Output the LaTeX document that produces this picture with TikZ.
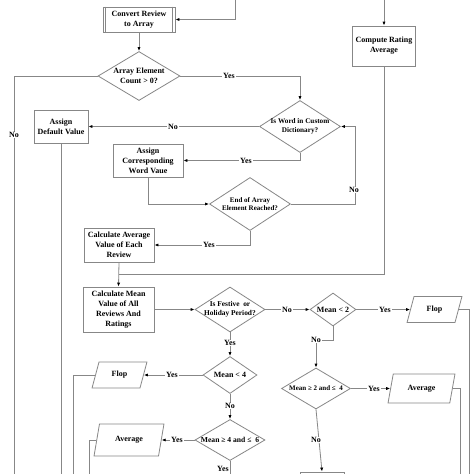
\documentclass[tikz,border=0pt]{standalone}
\usepackage{fontspec}
\setmainfont{Liberation Serif}
\usetikzlibrary{shapes.geometric,arrows.meta,calc}
\definecolor{lineg}{RGB}{135,135,135}
\begin{document}
\begin{tikzpicture}[x=1pt,y=-1pt,
  line/.style={draw=lineg, line width=0.8pt},
  arr/.style={line, -{Latex[length=4pt,width=3.2pt,color=black]}},
  box/.style={draw=lineg, line width=0.8pt, rectangle, inner sep=0pt, align=center, font=\fontsize{8}{9.8}\selectfont\bfseries},
  dec/.style={draw=lineg, line width=0.8pt, diamond, inner sep=0pt},
  dtext/.style={inner sep=0pt, align=center, font=\fontsize{7.2}{8.5}\selectfont\bfseries},
  dbig/.style={dtext, font=\fontsize{8}{9.6}\selectfont\bfseries},
  io/.style={draw=lineg, line width=0.8pt, trapezium, trapezium left angle=70, trapezium right angle=110, trapezium stretches=true, inner sep=0pt, font=\fontsize{8}{9.8}\selectfont\bfseries},
  lbl/.style={fill=white, inner sep=0.8pt, font=\fontsize{8}{9}\selectfont\bfseries},
]
\clip (0,0) rectangle (474,474);
\fill[white] (0,0) rectangle (474,474);

% coordinates for free ends
\coordinate (t1) at (235,-5);
\coordinate (t2) at (384,-5);
\coordinate (b1) at (14,480);
\coordinate (b2) at (61,480);
\coordinate (b3) at (73,480);
\coordinate (b4) at (89,480);
\coordinate (b5) at (230,480);
\coordinate (b6) at (460,480);
\coordinate (b7) at (469,480);

% nodes
\node[box, minimum width=72, minimum height=25] (cv) at (139,19.5) {Convert Review\\to Array};
\draw[line] ([xshift=3pt]cv.north west) -- ([xshift=3pt]cv.south west);
\draw[line] ([xshift=-3pt]cv.north east) -- ([xshift=-3pt]cv.south east);

\node[box, minimum width=63, minimum height=40] (cr) at (384,46) {Compute Rating\\Average};

\node[dec, minimum width=82, minimum height=49, label={[dbig]center:{Array Element\\Count > 0?}}] (d1) at (139,76) {};
\node[dec, minimum width=81, minimum height=52, label={[dtext]center:{Is Word in Custom\\Dictionary?}}] (d2) at (300,126.5) {};
\node[box, minimum width=54, minimum height=33] (dv) at (61,126.5) {Assign\\Default Value};
\node[box, minimum width=70, minimum height=33] (ac) at (148,160.5) {Assign\\Corresponding\\Word Vaue};
\node[dec, minimum width=81, minimum height=53, label={[dtext, font=\fontsize{7}{8.5}\selectfont\bfseries]center:{End of Array\\Element Reached?}}] (d3) at (250,204) {};
\node[box, minimum width=70, minimum height=34] (ca) at (119,245) {Calculate Average\\Value of Each\\Review};
\node[box, minimum width=71, minimum height=45] (cm) at (118.5,309.5) {Calculate Mean\\Value of All\\Reviews And\\Ratings};
\node[dec, minimum width=70, minimum height=45, label={[dtext, font=\fontsize{7.4}{9}\selectfont\bfseries]center:{Is Festive\ \ or\\Holiday Period?}}] (d4) at (230,309.5) {};
\node[dec, minimum width=46, minimum height=33, label={[dbig]center:{Mean < 2}}] (d5) at (333,309.5) {};
\node[io, minimum width=55, minimum height=26] (fl1) at (434.5,309.5) {Flop};
\node[dec, minimum width=69, minimum height=41, label={[dtext, font=\fontsize{7}{8.5}\selectfont\bfseries]center:{Mean ≥ 2 and ≤\ \ 4}}] (d6) at (316,388.5) {};
\node[io, minimum width=67, minimum height=29] (av1) at (421.5,388.5) {Average};
\node[box, minimum width=44, minimum height=30] (bb) at (322,487) {};
\node[dec, minimum width=54, minimum height=37, label={[dbig]center:{Mean < 4}}] (d7) at (230,375) {};
\node[io, minimum width=55, minimum height=26] (fl2) at (119.5,375) {Flop};
\node[dec, minimum width=70, minimum height=41, label={[dtext, font=\fontsize{7.6}{9}\selectfont\bfseries]center:{Mean ≥ 4 and ≤\ \ 6}}] (d8) at (230,440) {};
\node[io, minimum width=70, minimum height=32] (av2) at (129,440) {Average};

% connectors
\draw[arr] (t1) |- (cv.east);
\draw[arr] (t2) -- (cr.north);
\draw[arr] (cv.south) -- (d1.north);
\draw[line] (d1.west) -| (b1);
\draw[arr] (d1.east) -| (d2.north);
\draw[arr] (d2.west) -- (dv.east);
\draw[line] (dv.south) -- (b2);
\draw[arr] (d2.south) |- (ac.east);
\draw[arr] (ac.south) |- (d3.west);
\draw[arr] (d3.east) -- ++(64,0) |- (d2.east);
\draw[arr] (d3.south) |- (ca.east);
\draw[arr] (ca.south) -- (cm.north);
\draw[line] (cr.south) |- ($(ca.south)!0.5!(cm.north)$);
\draw[arr] (cm.east) -- (d4.west);
\draw[arr] (d4.east) -- (d5.west);
\draw[arr] (d5.east) -- (fl1.left side);
\draw[line] (fl1.right side) -| (b7);
\draw[arr] (d5.south) -- ++(0,14) -| (d6.north);
\draw[arr] (d6.east) -- (av1.left side);
\draw[line] (av1.right side) -| (b6);
\draw[arr] (d6.south) -- (bb.north);
\draw[arr] (d4.south) -- (d7.north);
\draw[arr] (d7.west) -- (fl2.right side);
\draw[line] (fl2.left side) -| (b3);
\draw[arr] (d7.south) -- (d8.north);
\draw[arr] (d8.west) -- (av2.right side);
\draw[line] (av2.left side) -| (b4);
\draw[line] (d8.south) -- (b5);

% connector labels
\node[lbl] (l1) at (229,76) {Yes};
\node[lbl] (l2) at (14,135) {No};
\node[lbl] (l3) at (173,126.5) {No};
\node[lbl] (l4) at (246,161) {Yes};
\node[lbl] (l5) at (354,190) {No};
\node[lbl] (l6) at (209,245) {Yes};
\node[lbl] (l7) at (287,309.5) {No};
\node[lbl] (l8) at (385,309.5) {Yes};
\node[lbl] (l9) at (316,340) {No};
\node[lbl] (l10) at (374,388.5) {Yes};
\node[lbl] (l11) at (316,440) {No};
\node[lbl] (l12) at (230,343) {Yes};
\node[lbl] (l13) at (172,375) {Yes};
\node[lbl] (l14) at (230,406) {No};
\node[lbl] (l15) at (177,440) {Yes};
\node[lbl] (l16) at (223,468.5) {Yes};
\end{tikzpicture}
\end{document}
